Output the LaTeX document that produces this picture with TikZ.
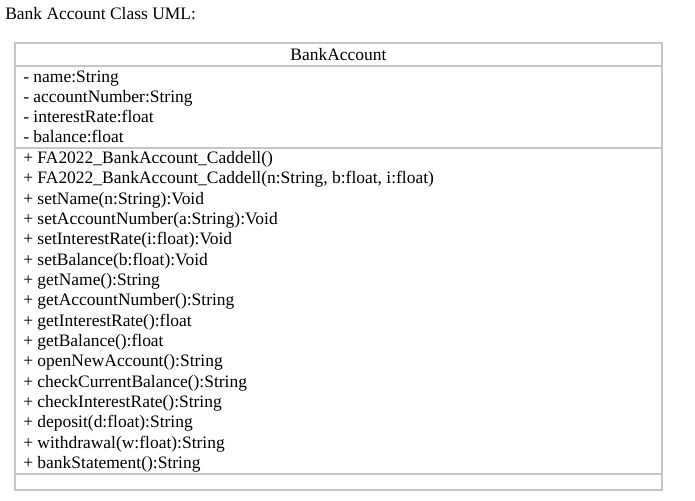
\documentclass[tikz,border=0pt]{standalone}
\usepackage{fontspec}
\setmainfont{Liberation Serif}
\usetikzlibrary{positioning}

\newlength{\pix}\setlength{\pix}{0.75pt}
\definecolor{umlgray}{RGB}{198,198,198}

\tikzset{
  compartment/.style={draw=umlgray, line width=1.5\pix, minimum width=647\pix,
    inner sep=0pt, outer sep=0pt},
  member/.style={anchor=base west, inner sep=0pt}
}

\begin{document}
\begin{tikzpicture}[x=0.75pt,y=-0.75pt,font=\fontsize{13.1}{16}\selectfont]
  \useasboundingbox (0,0) rectangle (695,500);
  \node[member] (title) at (5,19.5) {Bank Account Class UML:};
  % class box
  \node[compartment, minimum height=23\pix, anchor=north west] (head) at (15,43) {BankAccount};
  \node[compartment, minimum height=82\pix, below=0pt of head] (attrs) {};
  \node[compartment, minimum height=326\pix, below=0pt of attrs] (ops) {};
  \node[compartment, minimum height=16\pix, below=0pt of ops] (foot) {};
  % attributes
  \foreach \txt [count=\i from 0] in {- name:String, - accountNumber:String,
      - interestRate:float, - balance:float}
    \node[member] (attr\i) at (23,82+20.3*\i) {\txt};
  % operations
  \foreach \txt [count=\i from 0] in {+ FA2022\_BankAccount\_Caddell(),
      {+ FA2022\_BankAccount\_Caddell(n:String, b:float, i:float)},
      + setName(n:String):Void, + setAccountNumber(a:String):Void,
      + setInterestRate(i:float):Void, + setBalance(b:float):Void,
      + getName():String, + getAccountNumber():String,
      + getInterestRate():float, + getBalance():float,
      + openNewAccount():String, + checkCurrentBalance():String,
      + checkInterestRate():String, + deposit(d:float):String,
      + withdrawal(w:float):String, + bankStatement():String}
    \node[member] (op\i) at (23,163.5+20.33*\i) {\txt};
\end{tikzpicture}
\end{document}
